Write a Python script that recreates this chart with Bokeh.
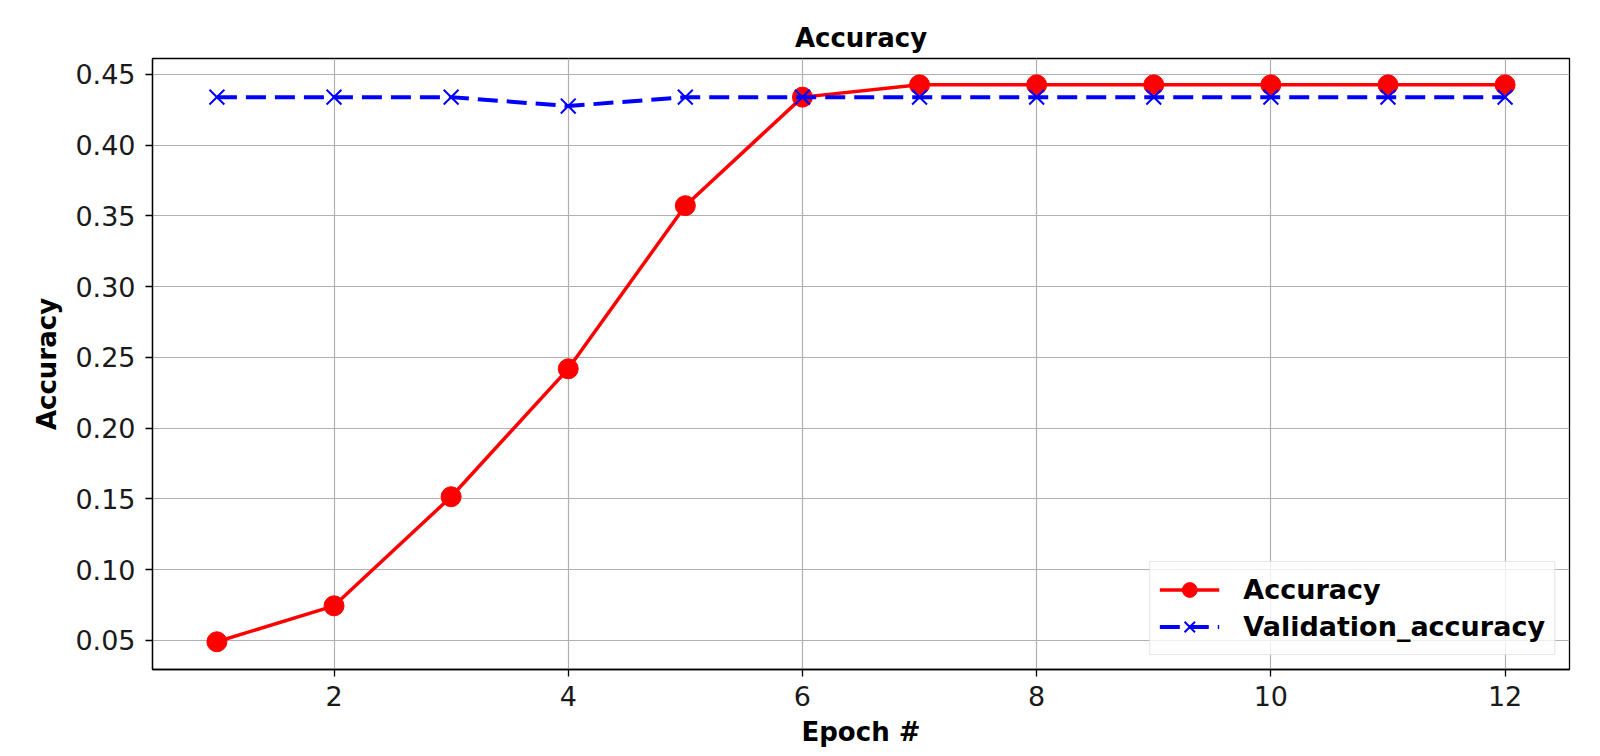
from bokeh.plotting import figure
from bokeh.models import Range1d, FixedTicker, Legend, LegendItem, NumeralTickFormatter
from bokeh.embed import file_html
from bokeh.resources import INLINE

epochs = [1, 2, 3, 4, 5, 6, 7, 8, 9, 10, 11, 12]
accuracy = [0.0491, 0.0745, 0.1516, 0.2420, 0.3573, 0.4340, 0.4427, 0.4427, 0.4427, 0.4427, 0.4427, 0.4427]
val_accuracy = [0.4340, 0.4340, 0.4340, 0.4277, 0.4340, 0.4340, 0.4340, 0.4340, 0.4340, 0.4340, 0.4340, 0.4340]
x_ticks = [2, 4, 6, 8, 10, 12]
y_ticks = [0.05, 0.10, 0.15, 0.20, 0.25, 0.30, 0.35, 0.40, 0.45]

FONT = "DejaVu Sans"

p = figure(width=1600, height=756, output_backend="svg", toolbar_location=None,
           x_range=Range1d(0.45, 12.55), y_range=Range1d(0.0295, 0.4613),
           min_border_left=152, min_border_right=31, min_border_top=58, min_border_bottom=87)

p.title.text = "Accuracy"
p.title.align = "center"
p.title.text_font = FONT
p.title.text_font_size = "26px"
p.title.text_font_style = "bold"
p.title.text_color = "black"
p.title.standoff = 12

p.outline_line_color = "black"
p.outline_line_width = 1.3
p.outline_line_alpha = 1.0

for ax in (p.xaxis[0], p.yaxis[0]):
    ax.axis_line_color = "black"
    ax.axis_line_width = 1.3
    ax.major_tick_line_color = "black"
    ax.major_tick_line_width = 1.3
    ax.major_tick_out = 7
    ax.major_tick_in = 0
    ax.minor_tick_line_color = None
    ax.major_label_text_font = FONT
    ax.major_label_text_font_size = "27px"
    ax.major_label_text_color = "#1a1a1a"
    ax.axis_label_text_font = FONT
    ax.axis_label_text_font_size = "26px"
    ax.axis_label_text_font_style = "bold"
    ax.axis_label_text_color = "black"

p.xaxis[0].ticker = FixedTicker(ticks=x_ticks)
p.yaxis[0].ticker = FixedTicker(ticks=y_ticks)
p.yaxis[0].formatter = NumeralTickFormatter(format="0.00")
p.xaxis[0].axis_label = "Epoch #"
p.yaxis[0].axis_label = "Accuracy"
p.xaxis[0].major_label_standoff = 9
p.yaxis[0].major_label_standoff = 10
p.xaxis[0].axis_label_standoff = 8
p.yaxis[0].axis_label_standoff = 10

p.xgrid.grid_line_color = "#b0b0b0"
p.ygrid.grid_line_color = "#b0b0b0"
p.xgrid.grid_line_width = 1.2
p.ygrid.grid_line_width = 1.2

l1 = p.line(epochs, accuracy, line_color="red", line_width=3.5)
m1 = p.scatter(epochs, accuracy, marker="circle", size=20, fill_color="red", line_color="red")
l2 = p.line(epochs, val_accuracy, line_color="blue", line_width=4, line_dash="20 9")
m2 = p.scatter(epochs, val_accuracy, marker="x", size=21, line_color="blue", line_width=2)

legend = Legend(items=[LegendItem(label="Accuracy", renderers=[l1, m1]),
                       LegendItem(label="Validation_accuracy", renderers=[l2, m2])],
                location="bottom_right")
legend.label_text_font = FONT
legend.label_text_font_size = "27px"
legend.label_text_font_style = "bold"
legend.label_text_color = "black"
legend.border_line_color = "#cccccc"
legend.border_line_width = 1.2
legend.background_fill_alpha = 0.8
legend.glyph_width = 60
legend.glyph_height = 37
legend.label_height = 37
legend.label_standoff = 24
legend.spacing = 0
legend.padding = 9
legend.margin = 14
p.add_layout(legend)

open("out.html", "w").write(file_html(p, INLINE))
